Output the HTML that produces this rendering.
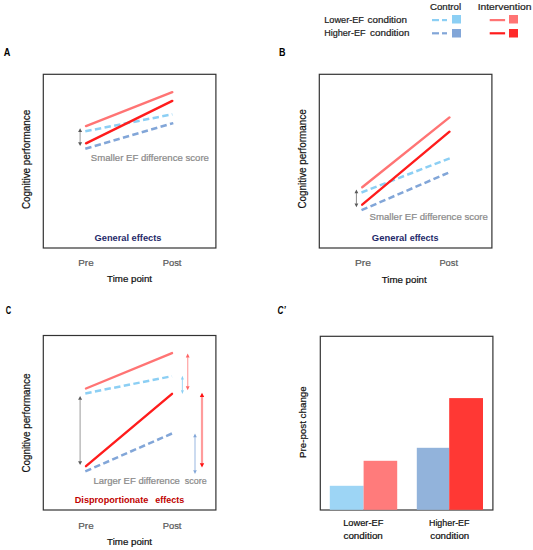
<!DOCTYPE html>
<html><head><meta charset="utf-8">
<style>
html,body{margin:0;padding:0;background:#fff;overflow:hidden;}
svg{display:block;}
text{font-family:"Liberation Sans",sans-serif;}
</style></head>
<body>
<svg width="533" height="550" viewBox="0 0 533 550">
<text x="324.21" y="23.4" font-size="9.6" fill="#222" stroke="#222" stroke-width="0.22" textLength="39.76" lengthAdjust="spacingAndGlyphs">Lower-EF</text>
<text x="367.63" y="23.3" font-size="9.6" fill="#222" stroke="#222" stroke-width="0.22" textLength="39.3" lengthAdjust="spacingAndGlyphs">condition</text>
<text x="324.26" y="36.1" font-size="9.6" fill="#222" stroke="#222" stroke-width="0.22" textLength="41.2" lengthAdjust="spacingAndGlyphs">Higher-EF</text>
<text x="370.08" y="35.9" font-size="9.6" fill="#222" stroke="#222" stroke-width="0.22" textLength="39.36" lengthAdjust="spacingAndGlyphs">condition</text>
<text x="429.91" y="10.4" font-size="9.6" fill="#222" stroke="#222" stroke-width="0.22" textLength="31.24" lengthAdjust="spacingAndGlyphs">Control</text>
<text x="477.65" y="10.4" font-size="9.6" fill="#222" stroke="#222" stroke-width="0.22" textLength="53.82" lengthAdjust="spacingAndGlyphs">Intervention</text>
<rect x="432" y="19" width="7" height="2.2" fill="#8ccff4"/><rect x="442" y="19" width="5" height="2.2" fill="#8ccff4"/><rect x="452" y="15" width="9" height="8.5" fill="#8ccff4"/>
<rect x="432" y="32.2" width="7" height="2.2" fill="#82a6d8"/><rect x="442" y="32.2" width="5" height="2.2" fill="#82a6d8"/><rect x="452" y="29" width="9" height="8.5" fill="#82a6d8"/>
<rect x="489.7" y="19" width="15.4" height="2.2" fill="#ff7474"/><rect x="509" y="15" width="9" height="8.5" fill="#ff7474"/>
<rect x="489.7" y="32.2" width="15.4" height="2.2" fill="#ff1c1c"/><rect x="509" y="29" width="9" height="8.5" fill="#ff2a2a"/>
<text x="3.82" y="56.3" font-size="10" fill="#000" textLength="6.62" lengthAdjust="spacingAndGlyphs" font-weight="bold">A</text>
<text x="279.0" y="56.3" font-size="10" fill="#000" textLength="6.51" lengthAdjust="spacingAndGlyphs" font-weight="bold">B</text>
<text x="5.79" y="314.1" font-size="10" fill="#000" textLength="5.41" lengthAdjust="spacingAndGlyphs" font-weight="bold">C</text>
<text x="277.6" y="314" font-size="10" fill="#000" textLength="8.2" lengthAdjust="spacingAndGlyphs" font-weight="bold" font-style="italic">C’</text>
<g fill="none" stroke="#333" stroke-width="1.2">
<rect x="43.3" y="74.3" width="172.6" height="173.7"/>
<rect x="319.3" y="74.3" width="172.6" height="173.7"/>
<rect x="43.3" y="335.5" width="172.6" height="174.5"/>
<rect x="320.3" y="336.3" width="172.6" height="173.7"/>
</g>
<line x1="86" y1="126.1" x2="172.3" y2="92.2" stroke="#ff7474" stroke-width="2.4" stroke-linecap="round"/>
<line x1="85.3" y1="131.3" x2="172.3" y2="114.35" stroke="#8ccff4" stroke-width="2.5" stroke-linecap="butt" stroke-dasharray="6.4 3.4"/>
<line x1="86" y1="143.3" x2="172.3" y2="100.9" stroke="#ff1c1c" stroke-width="2.4" stroke-linecap="round"/>
<line x1="85.3" y1="148.8" x2="173.3" y2="123.1" stroke="#82a6d8" stroke-width="2.5" stroke-linecap="butt" stroke-dasharray="6.4 3.4"/>
<line x1="80.1" y1="131.7" x2="80.1" y2="142.60000000000002" stroke="#9a9a9a" stroke-width="1"/>
<path d="M80.1,128.3 L82.1,132.0 L78.1,132.0 Z M80.1,146 L82.1,142.3 L78.1,142.3 Z" fill="#5a5a5a"/>
<text x="90.87" y="161.2" font-size="9.4" fill="#8a8a8a" stroke="#8a8a8a" stroke-width="0.22" textLength="118.06" lengthAdjust="spacingAndGlyphs">Smaller EF difference score</text>
<text x="94.52" y="240.7" font-size="9.4" fill="#1f2a6a" textLength="66.96" lengthAdjust="spacingAndGlyphs" font-weight="bold">General effects</text>
<text x="78.29" y="265.9" font-size="9.6" fill="#595959" stroke="#595959" stroke-width="0.22" textLength="15.35" lengthAdjust="spacingAndGlyphs">Pre</text>
<text x="162.63" y="265.9" font-size="9.6" fill="#595959" stroke="#595959" stroke-width="0.22" textLength="18.84" lengthAdjust="spacingAndGlyphs">Post</text>
<text x="107.08" y="282.4" font-size="9.8" fill="#111" stroke="#111" stroke-width="0.22" textLength="44.99" lengthAdjust="spacingAndGlyphs">Time point</text>
<text transform="translate(29.7,208.5) rotate(-90)" x="-0.5" font-size="10" fill="#111" stroke="#111" stroke-width="0.22" textLength="99.14" lengthAdjust="spacingAndGlyphs">Cognitive performance</text>
<line x1="362.2" y1="187.2" x2="449.5" y2="117.4" stroke="#ff7474" stroke-width="2.4" stroke-linecap="round"/>
<line x1="361.5" y1="192.5" x2="449.7" y2="158.3" stroke="#8ccff4" stroke-width="2.5" stroke-linecap="butt" stroke-dasharray="6.4 3.4"/>
<line x1="362.2" y1="204.7" x2="449.5" y2="131.7" stroke="#ff1c1c" stroke-width="2.4" stroke-linecap="round"/>
<line x1="361.5" y1="210.2" x2="448.2" y2="172.8" stroke="#82a6d8" stroke-width="2.5" stroke-linecap="butt" stroke-dasharray="6.4 3.4"/>
<line x1="356.4" y1="193.0" x2="356.4" y2="203.7" stroke="#8a8a8a" stroke-width="1"/>
<path d="M356.4,189.5 L358.29999999999995,193.3 L354.5,193.3 Z M356.4,207.2 L358.29999999999995,203.39999999999998 L354.5,203.39999999999998 Z" fill="#5a5a5a"/>
<text x="369.51" y="220.2" font-size="9.4" fill="#8a8a8a" stroke="#8a8a8a" stroke-width="0.22" textLength="118.41" lengthAdjust="spacingAndGlyphs">Smaller EF difference score</text>
<text x="371.81" y="240.8" font-size="9.6" fill="#1f2a6a" textLength="35.16" lengthAdjust="spacingAndGlyphs" font-weight="bold">General</text>
<text x="409.65" y="240.8" font-size="8.6" fill="#1f2a6a" textLength="28.92" lengthAdjust="spacingAndGlyphs" font-weight="bold">effects</text>
<text x="354.96" y="265.8" font-size="9.6" fill="#595959" stroke="#595959" stroke-width="0.22" textLength="16.0" lengthAdjust="spacingAndGlyphs">Pre</text>
<text x="439.44" y="265.8" font-size="9.6" fill="#595959" stroke="#595959" stroke-width="0.22" textLength="18.53" lengthAdjust="spacingAndGlyphs">Post</text>
<text x="381.68" y="282.6" font-size="9.8" fill="#111" stroke="#111" stroke-width="0.22" textLength="44.99" lengthAdjust="spacingAndGlyphs">Time point</text>
<text transform="translate(306,208) rotate(-90)" x="-0.5" font-size="10" fill="#111" stroke="#111" stroke-width="0.22" textLength="99.14" lengthAdjust="spacingAndGlyphs">Cognitive performance</text>
<line x1="86" y1="388.5" x2="172" y2="353.1" stroke="#ff7474" stroke-width="2.4" stroke-linecap="round"/>
<line x1="85.3" y1="393.4" x2="172" y2="376.2" stroke="#8ccff4" stroke-width="2.5" stroke-linecap="butt" stroke-dasharray="6.4 3.4"/>
<line x1="86" y1="466.2" x2="172" y2="393.8" stroke="#ff1c1c" stroke-width="2.4" stroke-linecap="round"/>
<line x1="85.3" y1="471.4" x2="172.4" y2="433.3" stroke="#82a6d8" stroke-width="2.5" stroke-linecap="butt" stroke-dasharray="6.4 3.4"/>
<line x1="80.1" y1="399.5" x2="80.1" y2="461.5" stroke="#9a9a9a" stroke-width="1"/>
<path d="M80.1,396.1 L82.1,399.8 L78.1,399.8 Z M80.1,464.9 L82.1,461.2 L78.1,461.2 Z" fill="#5a5a5a"/>
<line x1="187.7" y1="357.2" x2="187.7" y2="386.6" stroke="#ffaaaa" stroke-width="1.3"/>
<path d="M187.7,353.5 L189.6,357.5 L185.79999999999998,357.5 Z M187.7,390.3 L189.6,386.3 L185.79999999999998,386.3 Z" fill="#ff6464"/>
<line x1="182.4" y1="379.09999999999997" x2="182.4" y2="390.5" stroke="#a8dcf7" stroke-width="1.1"/>
<path d="M182.4,375.7 L183.9,379.4 L180.9,379.4 Z M182.4,393.9 L183.9,390.2 L180.9,390.2 Z" fill="#8ccff4"/>
<line x1="202" y1="396.7" x2="202" y2="463.6" stroke="#ff9c9c" stroke-width="2.2"/>
<path d="M202,392.8 L204.2,397.0 L199.8,397.0 Z M202,467.5 L204.2,463.3 L199.8,463.3 Z" fill="#ff1010"/>
<line x1="195" y1="436.9" x2="195" y2="470.5" stroke="#a2bde4" stroke-width="1.1"/>
<path d="M195,433.4 L196.8,437.2 L193.2,437.2 Z M195,474 L196.8,470.2 L193.2,470.2 Z" fill="#82a6d8"/>
<text x="93.52" y="483.5" font-size="9.2" fill="#8a8a8a" stroke="#8a8a8a" stroke-width="0.22" textLength="86.4" lengthAdjust="spacingAndGlyphs">Larger EF difference</text>
<text x="184.85" y="483.5" font-size="9.2" fill="#8a8a8a" stroke="#8a8a8a" stroke-width="0.22" textLength="21.85" lengthAdjust="spacingAndGlyphs">score</text>
<text x="74.79" y="502.8" font-size="8.8" fill="#c00000" textLength="73.52" lengthAdjust="spacingAndGlyphs" font-weight="bold">Disproportionate</text>
<text x="155.35" y="502.8" font-size="8.8" fill="#c00000" textLength="28.82" lengthAdjust="spacingAndGlyphs" font-weight="bold">effects</text>
<text x="78.29" y="528.7" font-size="9.6" fill="#595959" stroke="#595959" stroke-width="0.22" textLength="15.35" lengthAdjust="spacingAndGlyphs">Pre</text>
<text x="162.63" y="528.7" font-size="9.6" fill="#595959" stroke="#595959" stroke-width="0.22" textLength="18.84" lengthAdjust="spacingAndGlyphs">Post</text>
<text x="107.08" y="544.9" font-size="9.8" fill="#111" stroke="#111" stroke-width="0.22" textLength="44.99" lengthAdjust="spacingAndGlyphs">Time point</text>
<text transform="translate(29.7,472.1) rotate(-90)" x="-0.5" font-size="10" fill="#111" stroke="#111" stroke-width="0.22" textLength="99.04" lengthAdjust="spacingAndGlyphs">Cognitive performance</text>
<rect x="329.8" y="485.8" width="33.8" height="24" fill="#9dd5f5"/>
<rect x="363.6" y="460.8" width="33.6" height="49" fill="#ff7b7b"/>
<rect x="416.8" y="447.8" width="32.4" height="62" fill="#92b3db"/>
<rect x="449.2" y="398.1" width="33.8" height="111.7" fill="#ff3834"/>
<text x="343.14" y="526.4" font-size="9.6" fill="#111" stroke="#111" stroke-width="0.22" textLength="40.23" lengthAdjust="spacingAndGlyphs">Lower-EF</text>
<text x="343.48" y="539.3" font-size="9.6" fill="#111" stroke="#111" stroke-width="0.22" textLength="39.36" lengthAdjust="spacingAndGlyphs">condition</text>
<text x="428.97" y="526.2" font-size="9.6" fill="#111" stroke="#111" stroke-width="0.22" textLength="40.48" lengthAdjust="spacingAndGlyphs">Higher-EF</text>
<text x="430.39" y="539.1" font-size="9.6" fill="#111" stroke="#111" stroke-width="0.22" textLength="38.84" lengthAdjust="spacingAndGlyphs">condition</text>
<text transform="translate(306.4,457.3) rotate(-90)" x="-0.8" font-size="9.8" fill="#111" stroke="#111" stroke-width="0.22" textLength="71.84" lengthAdjust="spacingAndGlyphs">Pre-post change</text>
</svg>
</body></html>
